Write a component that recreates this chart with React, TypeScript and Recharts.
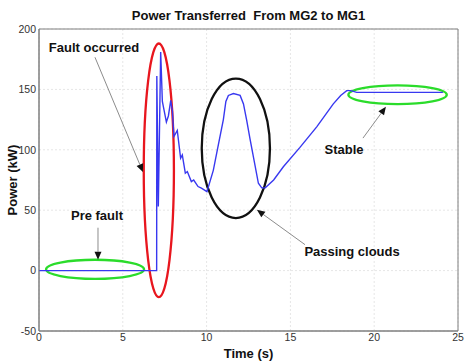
import {
  LineChart,
  Line,
  XAxis,
  YAxis,
  CartesianGrid,
  ReferenceArea,
  ReferenceLine,
  ReferenceDot,
} from "recharts";

// simulation trace
const timeS = [
  0, 7.02, 7.03, 7.12, 7.26, 7.36, 7.6, 7.72, 7.86, 7.96, 8.05, 8.25, 8.45, 8.55,
  8.73, 8.85, 9.09, 9.23, 9.49, 9.69, 10.02, 10.4, 10.7, 11.0, 11.15, 11.3, 11.6,
  12.0, 12.2, 12.39, 12.59, 13.09, 13.29, 13.5, 14.0, 14.58, 15.57, 16.57, 17.56,
  18.0, 18.36, 18.6, 18.96, 20, 24.1,
];
const powerKW = [
  0, 0, 161, 53, 181, 140, 123, 128, 141, 132, 111, 116, 93, 95.7, 80.6, 82, 73.7,
  75, 69.6, 68.2, 65.4, 83, 104, 125, 140, 145, 146.6, 145, 138, 124.6, 109, 72.3,
  68.5, 68.5, 75, 86, 102, 119, 138, 145, 149, 149, 147.5, 147.5, 147.5,
];

const xTicks = [0, 5, 10, 15, 20, 25];
const yTicks = [-50, 0, 50, 100, 150, 200];

// annotation ellipses: [x1, x2, y1, y2, colour]
const ellipses: [number, number, number, number, string][] = [
  [6.25, 8.05, -22, 188, "#e8161e"],
  [9.71, 13.78, 43.5, 159, "#111111"],
  [0.42, 6.27, -6.8, 9, "#2bdc2b"],
  [18.46, 24.33, 137.8, 153.3, "#2bdc2b"],
];

const notes = [
  { t: 3.28, p: 184.8, text: "Fault occurred" },
  { t: 3.46, p: 46, text: "Pre fault" },
  { t: 18.2, p: 100.7, text: "Stable" },
  { t: 18.68, p: 15.7, text: "Passing clouds" },
];

// [from t, from p, to t, to p]
const arrows = [
  [3.34, 176.6, 6.2, 81.7],
  [3.52, 35.5, 3.52, 9],
  [19.33, 109.7, 20.7, 135.6],
  [15.87, 21.5, 13.0, 50.3],
];

const data = timeS.map((t, i) => ({ t, power: powerKW[i] }));

const FONT = '"Liberation Sans", Arial, sans-serif';

const Arrow = (props: any) => {
  const { x1, y1, x2, y2 } = props;
  const a = Math.atan2(y2 - y1, x2 - x1);
  const len = 8;
  const w = 3.5;
  const bx = x2 - len * Math.cos(a);
  const by = y2 - len * Math.sin(a);
  const pts = `${x2},${y2} ${bx - w * Math.sin(a)},${by + w * Math.cos(a)} ${bx + w * Math.sin(a)},${by - w * Math.cos(a)}`;
  return (
    <g>
      <line x1={x1} y1={y1} x2={bx} y2={by} stroke="#8c8c8c" strokeWidth={1} />
      <polygon points={pts} fill="#111" />
    </g>
  );
};

const ellipseShape = (color: string) => (p: any) => (
  <ellipse
    cx={p.x + p.width / 2}
    cy={p.y + p.height / 2}
    rx={Math.abs(p.width) / 2}
    ry={Math.abs(p.height) / 2}
    fill="none"
    stroke={color}
    strokeWidth={2.3}
  />
);

export default function App() {
  return (
    <div style={{ position: "absolute", left: 0, top: 0, width: 474, height: 361, background: "#fff", fontFamily: FONT }}>
      <div
        style={{
          position: "absolute",
          left: 39,
          top: 8,
          width: 419,
          lineHeight: "16px",
          textAlign: "center",
          fontSize: 13,
          fontWeight: "bold",
          color: "#111",
        }}
      >
        Power Transferred&nbsp; From MG2 to MG1
      </div>
      <LineChart width={474} height={361} data={data} margin={{ top: 29, right: 16, bottom: 0, left: 0 }}>
        <CartesianGrid stroke="#e6e6e6" strokeDasharray="2 2" />
        <XAxis
          dataKey="t"
          type="number"
          domain={[0, 25]}
          ticks={xTicks}
          height={30}
          tickLine={false}
          tickSize={0}
          tickMargin={3}
          axisLine={{ stroke: "#7f7f7f" }}
          tick={{ fontSize: 10.5, fill: "#333", fontFamily: FONT }}
          label={{
            value: "Time (s)",
            position: "insideBottom",
            offset: 3,
            fontSize: 13,
            fontWeight: "bold",
            fill: "#111",
            fontFamily: FONT,
          }}
        />
        <YAxis
          type="number"
          domain={[-50, 200]}
          ticks={yTicks}
          width={39}
          tickLine={false}
          tickSize={0}
          tickMargin={3}
          axisLine={{ stroke: "#7f7f7f" }}
          tick={{ fontSize: 10.5, fill: "#333", fontFamily: FONT }}
          label={{
            content: (p: any) => {
              const vb = p.viewBox;
              const cx = 12;
              const cy = vb.y + vb.height / 2;
              return (
                <text
                  x={cx}
                  y={cy}
                  transform={`rotate(-90 ${cx} ${cy})`}
                  textAnchor="middle"
                  dominantBaseline="central"
                  fontSize={13}
                  fontWeight="bold"
                  fill="#111"
                  fontFamily={FONT}
                >
                  Power (kW)
                </text>
              );
            },
          }}
        />
        <ReferenceArea x1={0} x2={25} y1={-50} y2={200} fill="none" stroke="#7f7f7f" strokeWidth={1} />
        <Line
          type="linear"
          dataKey="power"
          stroke="#3838f0"
          strokeWidth={1.4}
          dot={false}
          isAnimationActive={false}
        />
        {ellipses.map(([x1, x2, y1, y2, c], i) => (
          <ReferenceArea key={`e${i}`} x1={x1} x2={x2} y1={y1} y2={y2} ifOverflow="visible" shape={ellipseShape(c)} />
        ))}
        {arrows.map(([t1, p1, t2, p2], i) => (
          <ReferenceLine
            key={`a${i}`}
            segment={[
              { x: t1, y: p1 },
              { x: t2, y: p2 },
            ]}
            ifOverflow="visible"
            shape={Arrow}
          />
        ))}
        {notes.map((n) => (
          <ReferenceDot
            key={n.text}
            x={n.t}
            y={n.p}
            r={0}
            fill="none"
            stroke="none"
            ifOverflow="visible"
            label={{
              value: n.text,
              position: "center",
              fontSize: 13,
              fontWeight: "bold",
              fill: "#111",
              fontFamily: FONT,
            }}
          />
        ))}
      </LineChart>
    </div>
  );
}
